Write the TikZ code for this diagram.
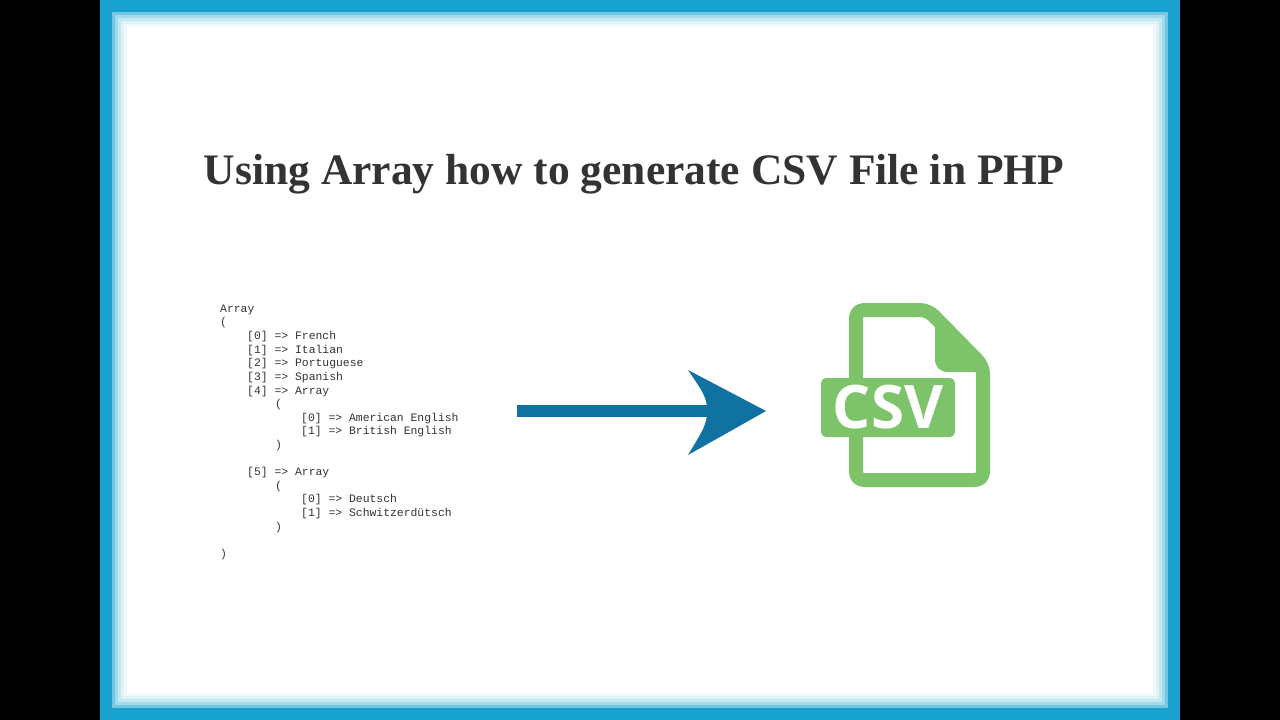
\documentclass[tikz,border=0pt]{standalone}
\usepackage{fontspec}
\setmainfont{Liberation Serif}
\newfontfamily\codefont{Liberation Mono}
\newfontfamily\csvfont{Open Sans}
\definecolor{frameblue}{HTML}{17A2CF}
\definecolor{arrowblue}{HTML}{0F72A0}
\definecolor{csvgreen}{HTML}{7CC36A}
\definecolor{titlegray}{HTML}{333333}
\tikzset{codeline/.style={anchor=west,inner sep=0pt,font=\codefont\fontsize{11.4}{12}\selectfont,text=black!80}}
\begin{document}
\begin{tikzpicture}[x=1pt,y=-1pt]
\useasboundingbox (0,0) rectangle (1280,720);
\fill[black] (0,0) rectangle (1280,720);
\fill[white] (100,0) rectangle (1180,720);
\foreach \i/\o in {0/60,3/40,6/25,9/14,12/6}{
  \draw[frameblue!\o!white,line width=3pt] (106+\i+7.5,6+\i+7.5) rectangle (1174-\i-7.5,714-\i-7.5);}
\draw[frameblue,line width=12pt] (106,6) rectangle (1174,714);
\node[font=\bfseries\fontsize{43.5}{48}\selectfont,text=titlegray] (title) at (634,174) {Using Array how to generate CSV File in PHP};
% code
\node[codeline] (l1) at (220,310) {Array};
\node[codeline] (l2) at (220,323) {(};
\node[codeline] (l3) at (247,337) {[0] => French};
\node[codeline] (l4) at (247,351) {[1] => Italian};
\node[codeline] (l5) at (247,364) {[2] => Portuguese};
\node[codeline] (l6) at (247,378) {[3] => Spanish};
\node[codeline] (l7) at (247,392) {[4] => Array};
\node[codeline] (l8) at (275,405) {(};
\node[codeline] (l9) at (301,419) {[0] => American English};
\node[codeline] (l10) at (301,432) {[1] => British English};
\node[codeline] (l11) at (275,446) {)};
\node[codeline] (l12) at (247,473) {[5] => Array};
\node[codeline] (l13) at (275,487) {(};
\node[codeline] (l14) at (301,500) {[0] => Deutsch};
\node[codeline] (l15) at (301,514) {[1] => Schwitzerdütsch};
\node[codeline] (l16) at (275,528) {)};
\node[codeline] (l17) at (220,555) {)};
% arrow
\coordinate (as) at (517,411);
\coordinate (at) at (766,411);
\fill[arrowblue] (517,405) -- (710,405) -- (710,417) -- (517,417) -- cycle;
\fill[arrowblue] (at) -- (688,370) .. controls (705,395) .. (708,411) .. controls (705,427) .. (688,455) -- cycle;
% csv icon
\draw[csvgreen,line width=14pt,line join=round,rounded corners=8pt] (890,310) -- (856,310) -- (856,480) -- (983,480) -- (983,366) -- (928,310) -- cycle;
\fill[csvgreen] (926,310) -- (983,366) -- (983,372) -- (948,372) .. controls (940,372) and (935,367) .. (935,359) -- (935,310) -- cycle;
\fill[csvgreen,rounded corners=5pt] (821,378) rectangle (955,437);
\node[font=\csvfont\bfseries\fontsize{60}{64}\selectfont,text=white] (csv) at (888,407) {CSV};
\end{tikzpicture}
\end{document}
